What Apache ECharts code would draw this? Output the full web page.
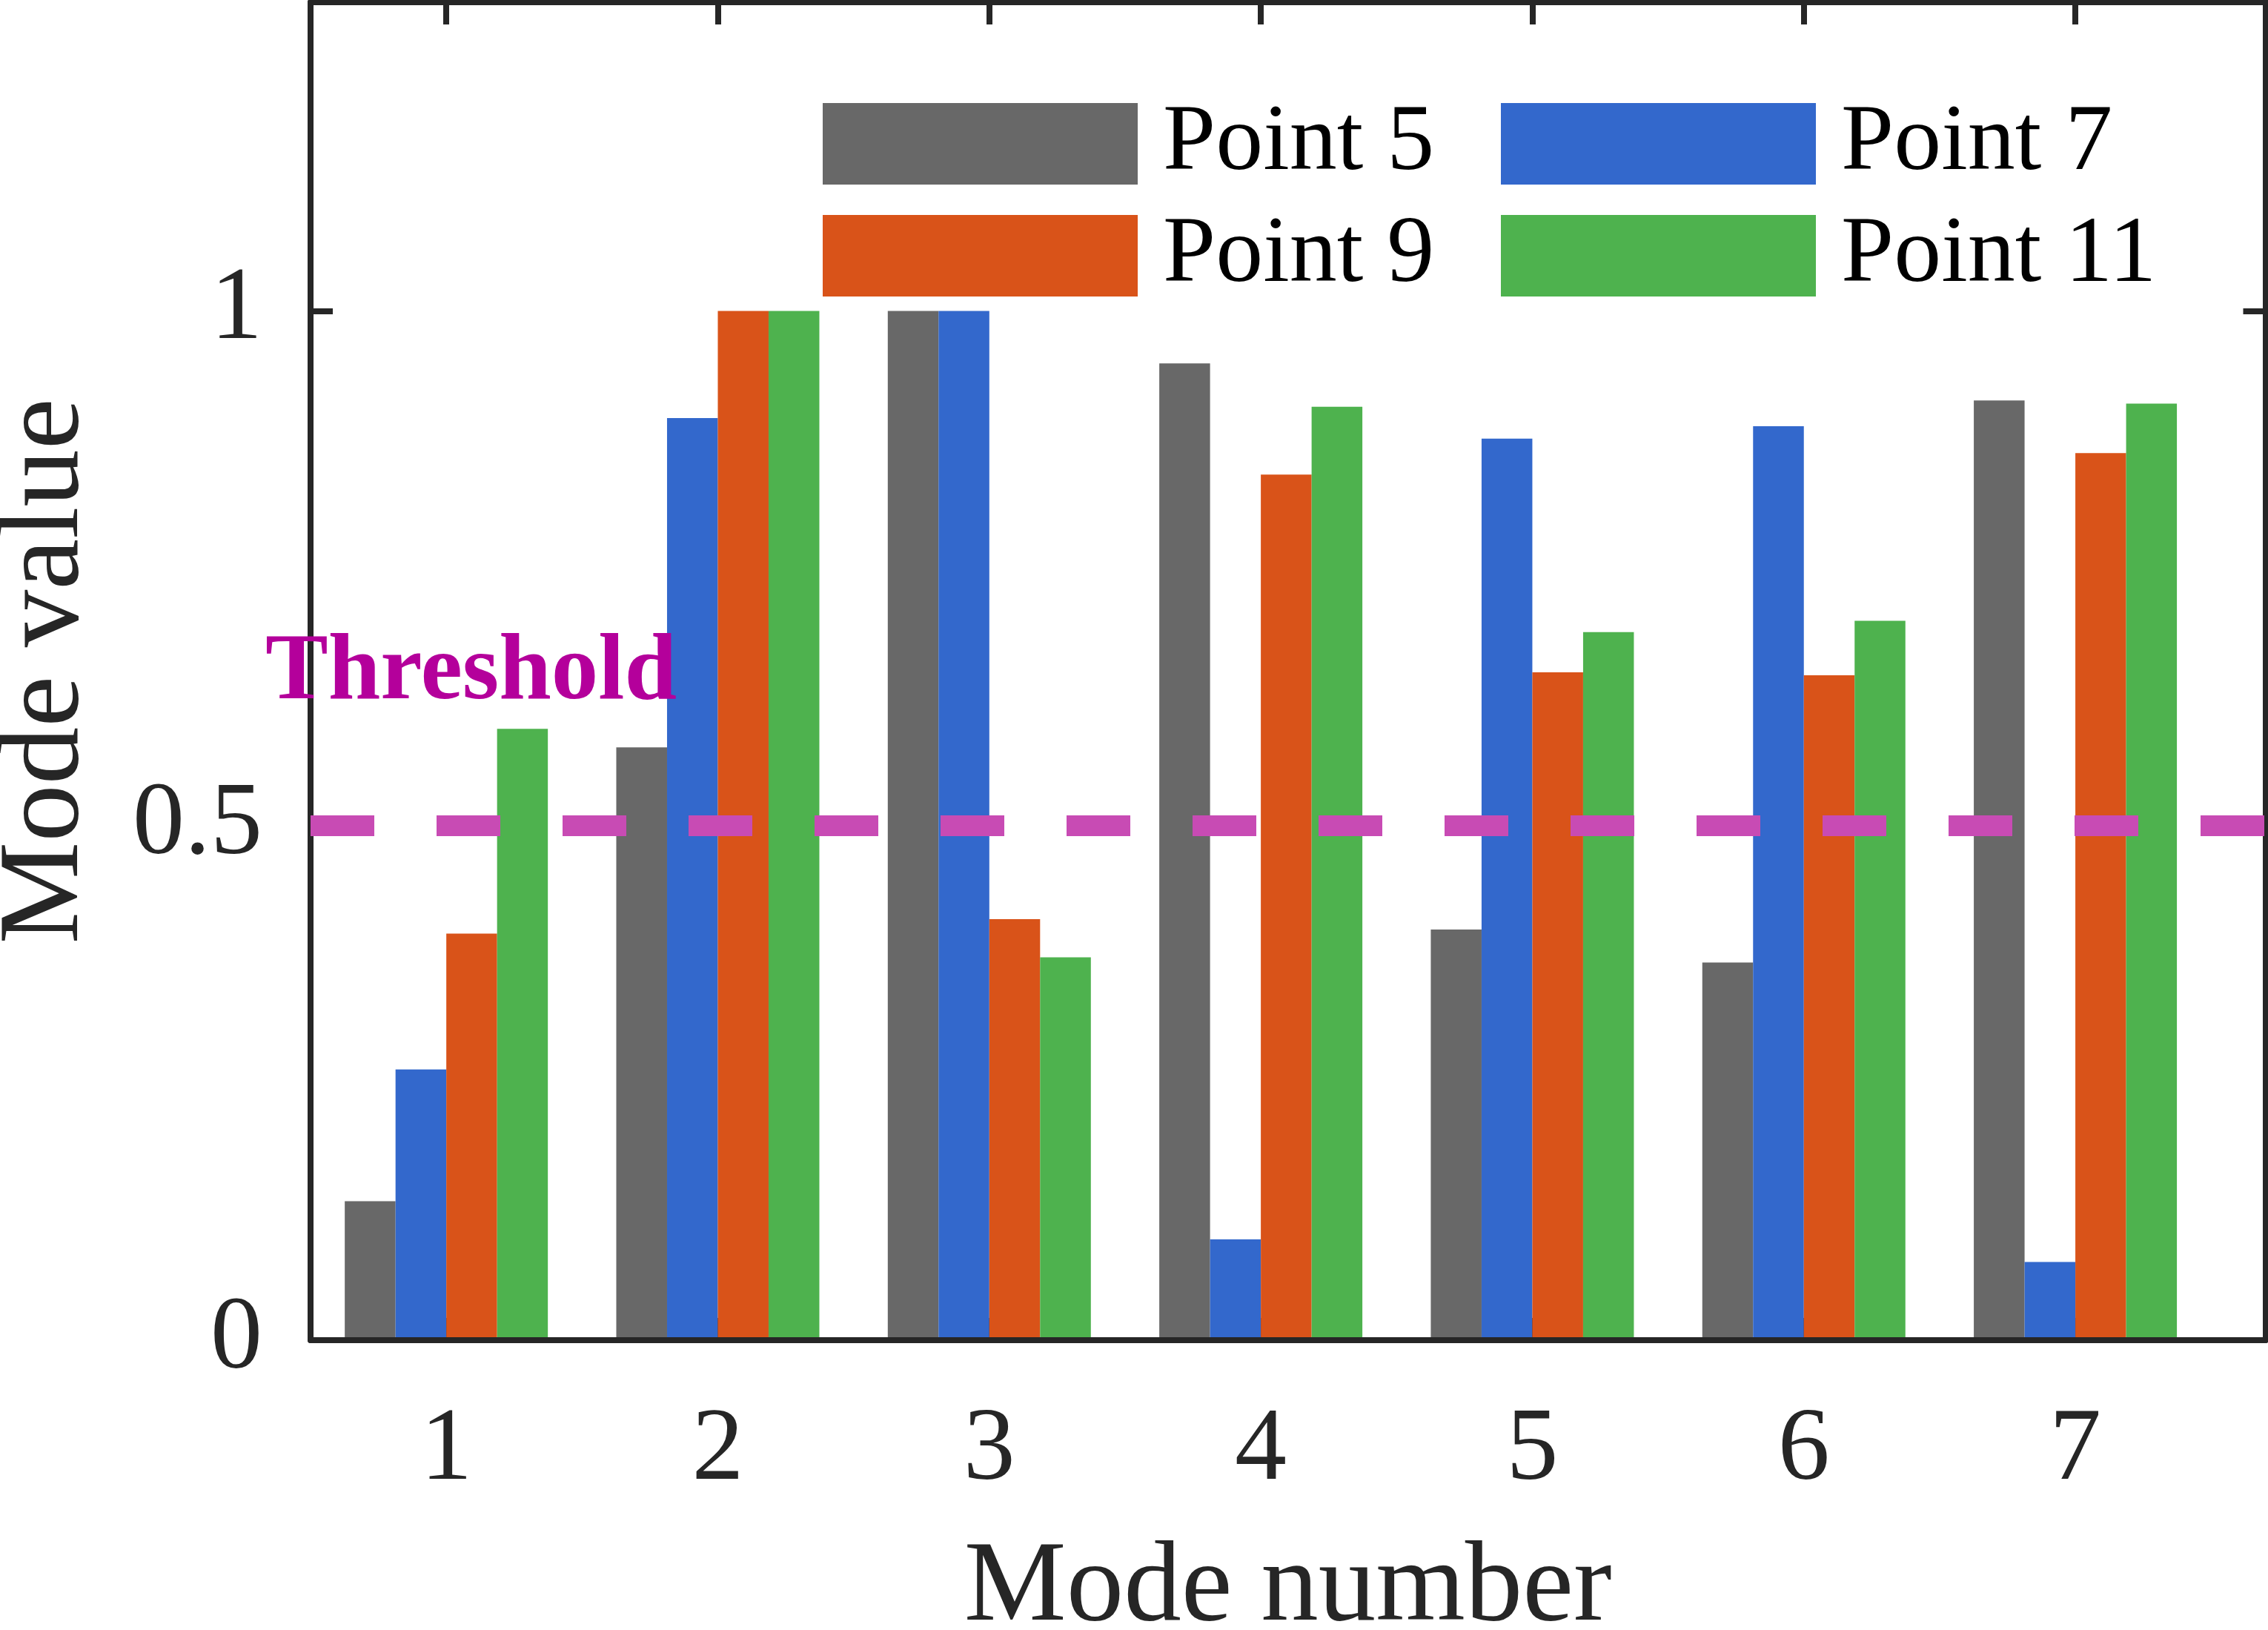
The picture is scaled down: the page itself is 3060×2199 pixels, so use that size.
<!DOCTYPE html>
<html>
<head>
<meta charset="utf-8">
<script src="https://cdn.jsdelivr.net/npm/echarts@6/dist/echarts.min.js"></script>
<style>
  html, body { margin: 0; padding: 0; background: #fff; }
  #chart { width: 3060px; height: 2199px; }
</style>
</head>
<body>
<div id="chart"></div>
<script>
// data
const modeNumbers = [1, 2, 3, 4, 5, 6, 7];
const point5 = [0.135, 0.576, 1.0, 0.949, 0.399, 0.367, 0.913];
const point7 = [0.263, 0.896, 1.0, 0.098, 0.876, 0.888, 0.076];
const point9 = [0.395, 1.0, 0.409, 0.841, 0.649, 0.646, 0.862];
const point11 = [0.594, 1.0, 0.372, 0.907, 0.688, 0.699, 0.910];
const yTicks = [0, 0.5, 1];
const threshold = 0.5;

const seriesNames = ['Point 5', 'Point 7', 'Point 9', 'Point 11'];
const seriesValues = [point5, point7, point9, point11];
const colors = ['#686868', '#3368CC', '#D95319', '#4EB24E'];

const axisColor = '#262626';
const font = 'Liberation Serif';
const axisWidth = 8;

function makeBar(i) {
  const s = {
    name: seriesNames[i],
    type: 'bar',
    barWidth: 68.5,
    barGap: '0%',
    itemStyle: { color: colors[i], borderWidth: 0 },
    emphasis: { disabled: true },
    data: modeNumbers.map((m, k) => [m, seriesValues[i][k]])
  };
  if (i === 3) {
    // threshold dashes + bar baseline drawn over the bars
    s.markLine = {
      silent: true,
      symbol: 'none',
      label: { show: false },
      lineStyle: { color: '#C84BB4', width: 28, type: [86, 84], cap: 'butt' },
      data: [
        { yAxis: threshold },
        { yAxis: 0, lineStyle: { color: axisColor, width: axisWidth, type: 'solid' } }
      ]
    };
  }
  return s;
}

// legend 2x2, one component for each entry
const legendPos = [
  { name: 'Point 5', left: 1110, top: 130 },
  { name: 'Point 7', left: 2025, top: 130 },
  { name: 'Point 9', left: 1110, top: 281 },
  { name: 'Point 11', left: 2025, top: 281 }
];

function boxAxis(extra) {
  return Object.assign({
    type: 'value',
    axisLine: { show: true, onZero: false, lineStyle: { color: axisColor, width: axisWidth } },
    splitLine: { show: false }
  }, extra);
}

const chart = echarts.init(document.getElementById('chart'));
chart.setOption({
  animation: false,
  grid: { left: 419, right: 3.5, top: 3, bottom: 391, outerBoundsMode: 'none', containLabel: false },
  legend: legendPos.map(p => ({
    data: [p.name],
    left: p.left,
    top: p.top,
    padding: 0,
    icon: 'rect',
    itemWidth: 425,
    itemHeight: 110,
    selectedMode: false,
    textStyle: { fontFamily: font, fontSize: 128, lineHeight: 110, color: '#000', padding: [0, 0, 0, 29] }
  })),
  xAxis: [
    boxAxis({
      position: 'bottom',
      min: 0.5,
      max: 7.7,
      name: 'Mode number',
      nameLocation: 'middle',
      nameGap: 259,
      nameTextStyle: { fontFamily: font, fontSize: 155, color: axisColor },
      axisTick: { show: true, inside: true, length: 30, lineStyle: { color: axisColor, width: axisWidth }, customValues: modeNumbers },
      axisLabel: { fontFamily: font, fontSize: 140, color: axisColor, margin: 80, customValues: modeNumbers }
    }),
    boxAxis({
      position: 'top',
      min: 0.5,
      max: 7.7,
      axisTick: { show: true, inside: true, length: 30, lineStyle: { color: axisColor, width: axisWidth }, customValues: modeNumbers },
      axisLabel: { show: false }
    })
  ],
  yAxis: [
    boxAxis({
      position: 'left',
      min: 0,
      max: 1.3,
      name: 'Mode value',
      nameLocation: 'middle',
      nameGap: 278,
      nameTextStyle: { fontFamily: font, fontSize: 155, color: axisColor },
      axisTick: { show: true, inside: true, length: 30, lineStyle: { color: axisColor, width: axisWidth }, customValues: yTicks },
      axisLabel: { fontFamily: font, fontSize: 140, color: axisColor, margin: 65, customValues: yTicks }
    }),
    boxAxis({
      position: 'right',
      min: 0,
      max: 1.3,
      axisTick: { show: true, inside: true, length: 30, lineStyle: { color: axisColor, width: axisWidth }, customValues: yTicks },
      axisLabel: { show: false }
    })
  ],
  graphic: [
    {
      type: 'text',
      z: 10,
      style: {
        x: 358,
        y: 909,
        text: 'Threshold',
        fill: '#B4009B',
        font: 'bold 127px "Liberation Serif"',
        verticalAlign: 'middle'
      }
    }
  ],
  series: [0, 1, 2, 3].map(makeBar)
});
</script>
</body>
</html>
